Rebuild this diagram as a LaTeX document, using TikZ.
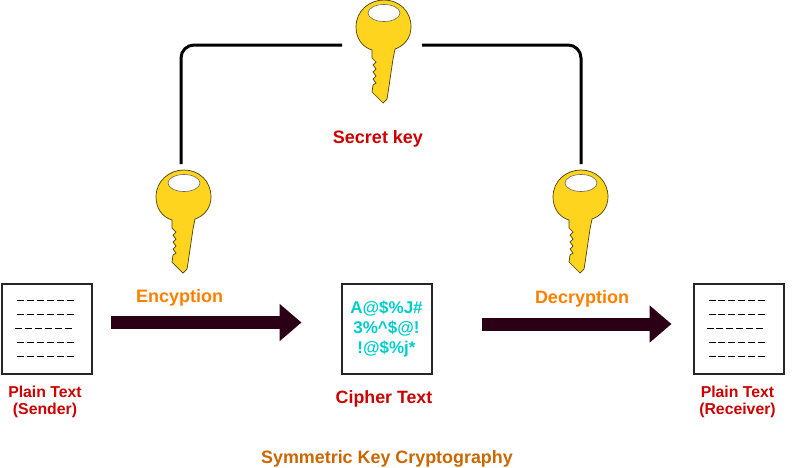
\documentclass[tikz,border=0pt]{standalone}
\usepackage{fontspec}
\setmainfont{Liberation Sans}
\usetikzlibrary{arrows.meta,positioning}
\definecolor{keyyellow}{HTML}{FFD41F}
\definecolor{arrowdark}{HTML}{2B0016}
\definecolor{labelred}{HTML}{CC0000}
\definecolor{labelorange}{HTML}{FF8000}
\definecolor{titlebrown}{HTML}{CC6600}
\definecolor{ciphercyan}{HTML}{00CCCC}
\newcommand{\bfsize}[1]{\fontsize{#1}{#1}\selectfont\bfseries}
\tikzset{
	textbox/.style={draw=black!85, line width=2pt, minimum size=90pt, inner sep=0pt},
	bigarrow/.style={arrowdark, line width=13pt, -{Triangle[length=22pt,width=36pt]}},
	keywire/.style={black, line width=3pt, rounded corners=13pt},
	dashline/.style={black, line width=0.9pt, dash pattern=on 7pt off 2.9pt},
	plainlabel/.style={labelred, align=center, font=\bfsize{15.8}},
	keypic/.pic={
		% kop met oog, tanden links
		\filldraw[fill=keyyellow, draw=black!70!keyyellow, line width=0.7pt]
			(-12,50) .. controls (-22,47) and (-28,38) .. (-28,27)
			.. controls (-28,11) and (-15,0) .. (0,0)
			.. controls (15,0) and (27,11) .. (27,27)
			.. controls (27,38) and (20,46) .. (11,49)
			-- (9,59) -- (4,93) -- (3,99) -- (-1,103) -- (-12,92)
			-- (-11,85) -- (-8,83) -- (-11,79) -- (-8,76) -- (-11,72) -- (-8,69)
			-- (-11,65) -- (-8,62) -- (-12,58) -- cycle;
		\filldraw[fill=white, draw=black!60, line width=0.6pt] (0,13) ellipse (16 and 8.5);
	},
}
\begin{document}
\begin{tikzpicture}[x=1pt, y=-1pt]
	\useasboundingbox (0,0) rectangle (794,467);

	% Blokken
	\node[textbox] (sender) at (47,329) {};
	\node[textbox, align=center, text=ciphercyan, font=\bfsize{17}] (cipher) at (386.5,329)
		{A@\$\%J\#\\[3pt]3\%\^{}\$@!\\[3pt]!@\$\%j*};
	\node[textbox] (receiver) at (738.5,329) {};

	% Stippellijnen
	\foreach \y/\dx in {-29/0, -15/0, -1/-2, 13/0, 27/0} {
		\draw[dashline] ([xshift=\dx pt-30pt, yshift=-\y pt]sender.center) -- ++(59,0);
		\draw[dashline] ([xshift=\dx pt-30pt, yshift=-\y pt]receiver.center) -- ++(59,0);
	}

	% Pijlen
	\draw[bigarrow, shorten <=18pt, shorten >=39pt] ([yshift=6.5pt]sender.east) -- ([yshift=6.5pt]cipher.west);
	\draw[bigarrow, shorten <=49.5pt, shorten >=21pt] ([yshift=5pt]cipher.east) -- ([yshift=5pt]receiver.west);

	% Sleutels
	\pic at (384,0) {keypic};
	\pic at (184,170) {keypic};
	\pic at (581,170) {keypic};

	% Draad
	\coordinate (wireLeftTop) at (342,45);
	\coordinate (wireLeftEnd) at (181,164);
	\coordinate (wireRightTop) at (422,45);
	\coordinate (wireRightEnd) at (581,164);
	\draw[keywire] (wireLeftEnd) |- (wireLeftTop);
	\draw[keywire] (wireRightEnd) |- (wireRightTop);

	% Teksten
	\node[labelred, font=\bfsize{18}] (secret) at (378,139) {Secret key};
	\node[labelorange, font=\bfsize{18}] (enc) at (179.5,298) {Encyption};
	\node[labelorange, font=\bfsize{18}] (dec) at (582,299) {Decryption};
	\node[plainlabel, below=8pt of sender, xshift=-2pt] (senderlabel) {Plain Text\\[1pt](Sender)};
	\node[plainlabel, below=8pt of receiver, xshift=-1pt] (receiverlabel) {Plain Text\\[1pt](Receiver)};
	\node[labelred, font=\bfsize{17.8}] (cipherlabel) at (384,399) {Cipher Text};
	\node[titlebrown, font=\bfsize{17.9}] (title) at (387,459) {Symmetric Key Cryptography};
\end{tikzpicture}
\end{document}
